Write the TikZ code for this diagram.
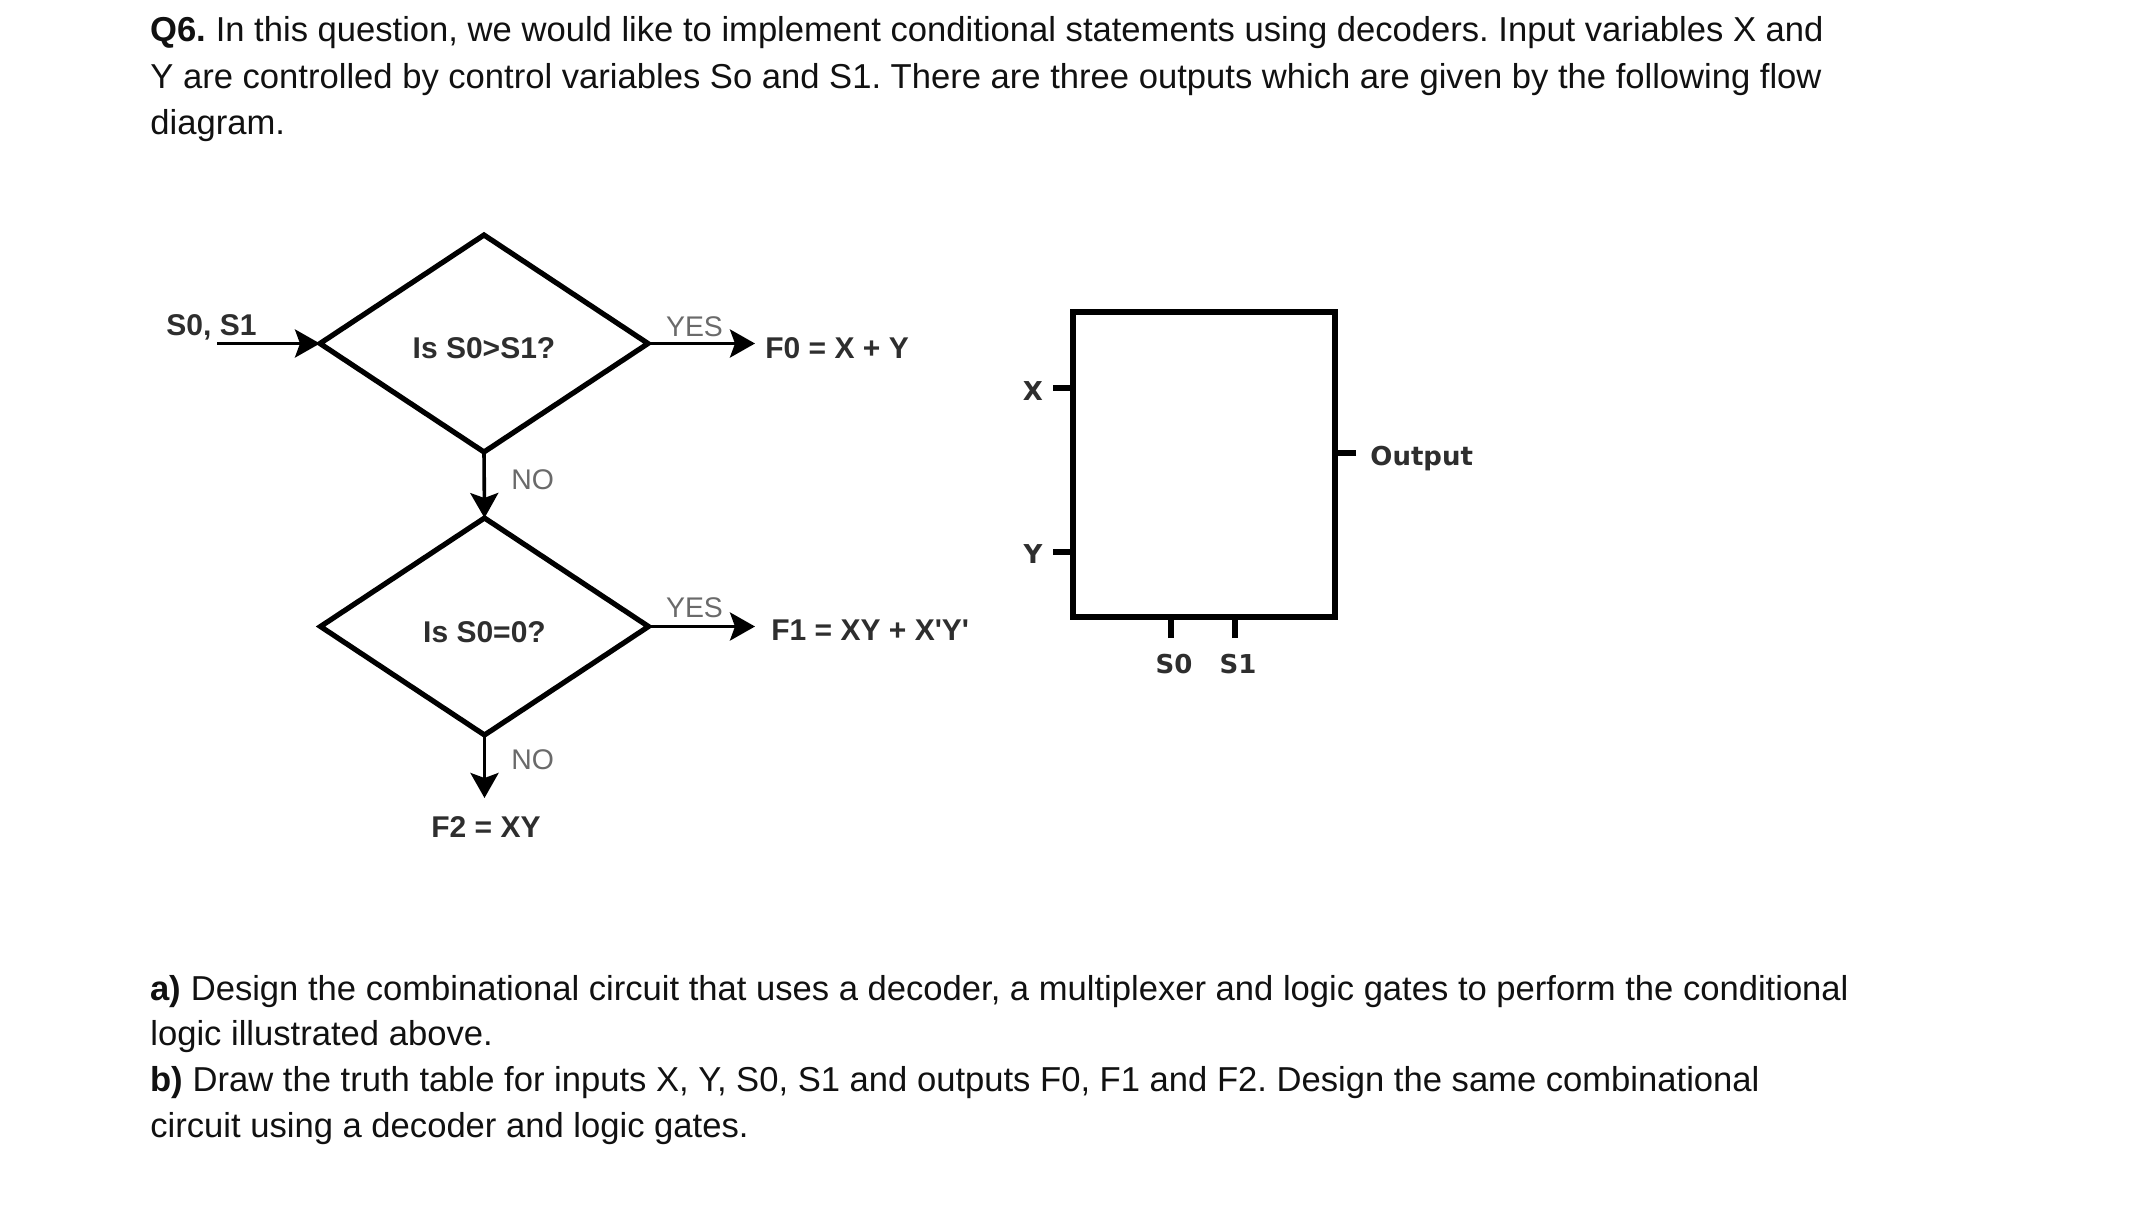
\documentclass[tikz,border=0pt]{standalone}
\usepackage{fontspec}
\setmainfont{Liberation Sans}
\newfontfamily\lsplain{Liberation Sans}
\newfontfamily\dvfont{DejaVu Sans}
\usetikzlibrary{shapes.geometric,arrows.meta}
\definecolor{txt}{HTML}{111111}
\definecolor{lbl}{HTML}{2E2E2E}
\definecolor{yn}{HTML}{6A6A6A}
\frenchspacing
\begin{document}
\begin{tikzpicture}[x=0.5pt,y=-0.5pt,
  qtext/.style={anchor=base west, inner sep=0pt, text=txt, font=\fontsize{17.3}{20}\selectfont},
  dec/.style={diamond, draw, line width=2.6pt, minimum width=164pt, minimum height=108.5pt,
    inner sep=0pt, outer sep=0pt},
  flowarrow/.style={line width=1.8pt, -{Stealth[length=12.5pt,width=14pt,inset=2.5pt]}},
  flabel/.style={inner sep=0pt, font=\lsplain\fontsize{15}{18}\selectfont\bfseries, text=lbl},
  ynlabel/.style={inner sep=0pt, font=\fontsize{14.2}{17}\selectfont, text=yn},
  blabel/.style={inner sep=0pt, font=\dvfont\fontsize{13}{16}\selectfont\bfseries, text=lbl},
  stub/.style={line width=2.6pt},
  blockbox/.style={draw, line width=3pt, minimum width=131pt, minimum height=152.5pt, inner sep=0pt, outer sep=0pt}
]
\useasboundingbox (0,0) rectangle (2140,1214);
\fill[white] (0,0) rectangle (2140,1214);

% question text
\node[qtext] (q1) at (150,42) {\textbf{Q6.} In this question, we would like to implement conditional statements using decoders. Input variables X and};
\node[qtext] (q2) at (150,88.5) {Y are controlled by control variables So and S1. There are three outputs which are given by the following flow};
\node[qtext] (q3) at (150,135) {diagram.};

\node[qtext] (pa1) at (150,1000) {\textbf{a)} Design the combinational circuit that uses a decoder, a multiplexer and logic gates to perform the conditional};
\node[qtext] (pa2) at (150,1045.5) {logic illustrated above.};
\node[qtext] (pb1) at (150,1091.5) {\textbf{b)} Draw the truth table for inputs X, Y, S0, S1 and outputs F0, F1 and F2. Design the same combinational};
\node[qtext] (pb2) at (150,1137) {circuit using a decoder and logic gates.};

% flowchart
\node[dec] (d1) at (484,343.5) {};
\node[flabel] (d1t) at (484,348) {Is S0>S1?};
\node[dec] (d2) at (484.5,626.5) {};
\node[flabel] (d2t) at (484.5,632) {Is S0=0?};

\node[flabel] (sin) at (211.5,327) {S0, S1};
\coordinate (inp) at (217,343.5);
\draw[flowarrow] (inp) -- (d1.west);

\node[flabel, anchor=west] (f0) at (765,348) {F0 = X + Y};
\draw[flowarrow] (d1.east) -- ([xshift=-5pt]f0.west |- d1.east);
\node[ynlabel] (yes1) at (694.5,327) {YES};

\draw[flowarrow] (d1.south) -- (d2.north);
\node[ynlabel, anchor=west] (no1) at (511,480) {NO};

\node[flabel, anchor=west] (f1) at (771,630) {F1 = XY + X'Y'};
\draw[flowarrow] (d2.east) -- ([xshift=-8pt]f1.west |- d2.east);
\node[ynlabel] (yes2) at (694.5,608) {YES};

\node[flabel] (f2) at (486,827) {F2 = XY};
\draw[flowarrow] (d2.south) -- (d2.south |- 0,798);
\node[ynlabel, anchor=west] (no2) at (511,760) {NO};

% block
\node[blockbox] (blk) at (1204,464.5) {};
\coordinate (xs) at (1053,388);
\coordinate (ys) at (1053,552);
\coordinate (os) at (1356,453);
\coordinate (s0s) at (1171,638);
\coordinate (s1s) at (1235,638);
\draw[stub] (xs) -- (xs -| blk.west);
\draw[stub] (ys) -- (ys -| blk.west);
\draw[stub] (os) -- (os -| blk.east);
\draw[stub] (s0s) -- (s0s |- blk.south);
\draw[stub] (s1s) -- (s1s |- blk.south);
\node[blabel] (xl) at (1033,391) {X};
\node[blabel] (yl) at (1033,554) {Y};
\node[blabel, anchor=west] (ol) at (1370,459) {Output};
\node[blabel] (s0l) at (1174,664) {S0};
\node[blabel] (s1l) at (1238,664) {S1};
\end{tikzpicture}
\end{document}
